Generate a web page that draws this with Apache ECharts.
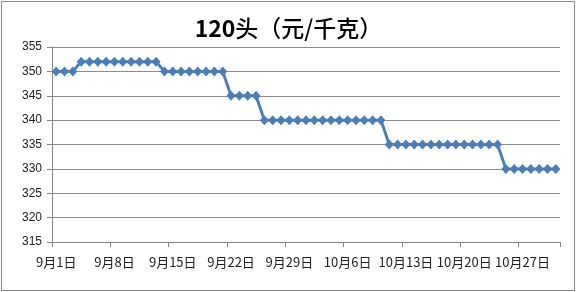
<!DOCTYPE html>
<html>
<head>
<meta charset="utf-8">
<script src="https://cdn.jsdelivr.net/npm/echarts@6/dist/echarts.min.js"></script>
<style>
html,body{margin:0;padding:0;background:#fff;}
#wrap{position:relative;width:577px;height:292px;}
#c{width:577px;height:292px;}
#frame{position:absolute;left:1px;top:1px;right:2px;bottom:1px;border:1px solid #8a8a8a;pointer-events:none;}
</style>
</head>
<body>
<div id="wrap"><div id="c"></div><div id="frame"></div></div>
<script>
var titleNum = '120';
var titleRest = '头（元/千克）';
var categories = [
'9月1日','9月2日','9月3日','9月4日','9月5日','9月6日','9月7日','9月8日','9月9日','9月10日',
'9月11日','9月12日','9月13日','9月14日','9月15日','9月16日','9月17日','9月18日','9月19日','9月20日',
'9月21日','9月22日','9月23日','9月24日','9月25日','9月26日','9月27日','9月28日','9月29日','9月30日',
'10月1日','10月2日','10月3日','10月4日','10月5日','10月6日','10月7日','10月8日','10月9日','10月10日',
'10月11日','10月12日','10月13日','10月14日','10月15日','10月16日','10月17日','10月18日','10月19日','10月20日',
'10月21日','10月22日','10月23日','10月24日','10月25日','10月26日','10月27日','10月28日','10月29日','10月30日',
'10月31日'
];
var prices = [
350,350,350,
352,352,352,352,352,352,352,352,352,352,
350,350,350,350,350,350,350,350,
345,345,345,345,
340,340,340,340,340,340,340,340,340,340,340,340,340,340,340,
335,335,335,335,335,335,335,335,335,335,335,335,335,335,
330,330,330,330,330,330,330
];
var yMin = 315, yMax = 355, yStep = 5;

var ff = '"Noto Sans CJK SC","Liberation Sans",sans-serif';
var chart = echarts.init(document.getElementById('c'), null, {renderer:'canvas'});
chart.setOption({
  animation:false,
  backgroundColor:'#fff',
  title:{
    text:'{a|' + titleNum + '}{b|' + titleRest + '}', left:'center', top:12,
    textStyle:{
      fontSize:23,color:'#000',fontFamily:ff,
      rich:{
        a:{fontSize:23,fontWeight:'bold',color:'#000',fontFamily:ff},
        b:{fontSize:23,fontWeight:'500',color:'#000',fontFamily:ff}
      }
    }
  },
  grid:{left:52,right:17,top:47,bottom:50,containLabel:false},
  xAxis:{
    type:'category',
    data:categories,
    boundaryGap:true,
    axisLine:{show:true,lineStyle:{color:'#868686',width:1}},
    axisTick:{show:true,interval:6,length:5,lineStyle:{color:'#868686'}},
    axisLabel:{interval:6,margin:14,fontSize:13,color:'#222',fontFamily:ff},
    splitLine:{show:false}
  },
  yAxis:{
    type:'value',
    min:yMin,max:yMax,interval:yStep,
    axisLine:{show:true,lineStyle:{color:'#868686',width:1}},
    axisTick:{show:true,length:5,lineStyle:{color:'#868686'}},
    axisLabel:{margin:10,fontSize:12,color:'#222',fontFamily:'"Liberation Sans","Noto Sans",sans-serif'},
    splitLine:{show:true,lineStyle:{color:'#8c8c8c',width:1}}
  },
  series:[{
    type:'line',
    data:prices,
    symbol:'diamond',
    symbolSize:[9,10],
    showAllSymbol:true,
    lineStyle:{color:'#4a7ebb',width:3},
    itemStyle:{color:'#4a7ebb'}
  }]
});
</script>
</body>
</html>
